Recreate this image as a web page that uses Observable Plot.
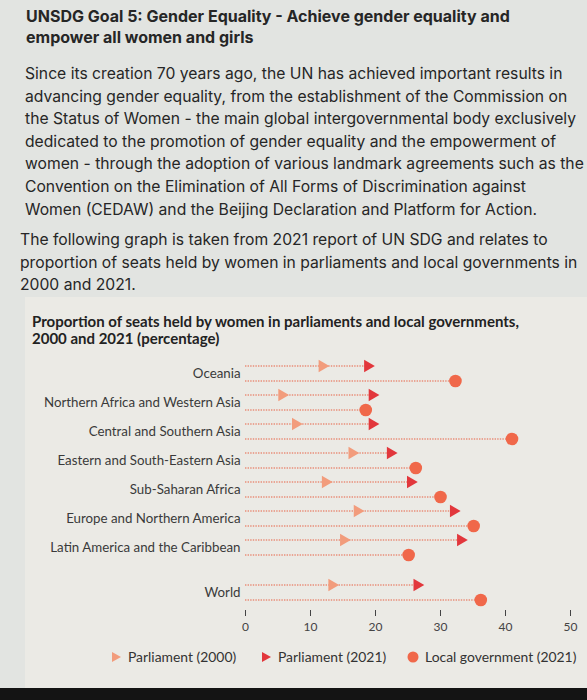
<!DOCTYPE html>
<html>
<head>
<meta charset="utf-8">
<script src="https://cdn.jsdelivr.net/npm/d3@7"></script>
<script src="https://cdn.jsdelivr.net/npm/@observablehq/plot@0.6"></script>
<style>
  body { margin: 0; width: 587px; height: 700px; overflow: hidden; background: #e2e4e1; position: relative;
         font-family: Inter, "Open Sans", sans-serif; color: #262626; }
  #intro { position: absolute; left: 26px; top: 6px; width: 561px; }
  #intro h1 { font-size: 16px; font-weight: 700; line-height: 21px; margin: 0; }
  #intro p { font-size: 15.7px; line-height: 22.6px; margin: 0; white-space: nowrap; }
  #p1 { margin-top: 15px !important; margin-left: -1px !important; }
  #p2 { margin-top: 8px !important; margin-left: -6px !important; }
  #card { position: absolute; left: 25px; top: 297px; right: 0; height: 391px; background: #ebeae5; }
  #card h2 { position: absolute; left: 7px; top: 16px; margin: 0; font-family: Lato, sans-serif; font-weight: 700;
             font-size: 15px; line-height: 16.5px; color: #222; white-space: nowrap; }
  #chart1 { position: absolute; left: 0; top: 59px; }
  #chart2 { position: absolute; left: 0; top: 267px; }
  #legend { position: absolute; left: 0; top: 351px; width: 562px; height: 18px; font-family: Lato, sans-serif;
            font-size: 13.9px; color: #333; }
  #legend span { position: absolute; display: flex; align-items: center; gap: 6px; line-height: 18px; }
  #footer { position: absolute; left: 0; right: 0; bottom: 0; height: 12px; background: #141414; }
</style>
</head>
<body>
<div id="intro">
  <h1>UNSDG Goal 5: Gender Equality - Achieve gender equality and<br>empower all women and girls</h1>
  <p id="p1">Since its creation 70 years ago, the UN has achieved important results in<br>advancing gender equality, from the establishment of the Commission on<br>the Status of Women - the main global intergovernmental body exclusively<br>dedicated to the promotion of gender equality and the empowerment of<br>women - through the adoption of various landmark agreements such as the<br>Convention on the Elimination of All Forms of Discrimination against<br>Women (CEDAW) and the Beijing Declaration and Platform for Action.</p>
  <p id="p2">The following graph is taken from 2021 report of UN SDG and relates to<br>proportion of seats held by women in parliaments and local governments in<br>2000 and 2021.</p>
</div>
<div id="card">
  <h2>Proportion of seats held by women in parliaments and local governments,<br>2000 and 2021 (percentage)</h2>
  <div id="chart1"></div>
  <div id="chart2"></div>
  <div id="legend"></div>
</div>
<div id="footer"></div>
<script>
const regions = ["Oceania", "Northern Africa and Western Asia", "Central and Southern Asia",
  "Eastern and South-Eastern Asia", "Sub-Saharan Africa", "Europe and Northern America",
  "Latin America and the Caribbean"];
const parl2000 = [11.8, 5.6, 7.7, 16.4, 12.3, 17.2, 15.1];
const parl2021 = [18.8, 19.5, 19.5, 22.3, 25.4, 32.0, 33.1];
const local2021 = [32.3, 18.5, 41.0, 26.2, 30.0, 35.1, 25.1];

const world = ["World"];
const worldParl2000 = [13.3];
const worldParl2021 = [26.4];
const worldLocal2021 = [36.2];

const seriesNames = ["Parliament (2000)", "Parliament (2021)", "Local government (2021)"];
const xTicks = [0, 10, 20, 30, 40, 50];

const c2000 = "#f29c7c", c2021 = "#e2373c", cLocal = "#f0684a", cLine = "#e9a594";

const regionRows = regions.map((r, i) => ({region: r, p0: parl2000[i], p1: parl2021[i], loc: local2021[i]}));
const worldRows = world.map((r, i) => ({region: r, p0: worldParl2000[i], p1: worldParl2021[i], loc: worldLocal2021[i]}));

const style = {fontFamily: "Lato, sans-serif", fontSize: "13.3px", color: "#3a3a3a", background: "transparent"};

function rowMarks(rows) {
  const dotted = {stroke: cLine, strokeWidth: 2, strokeDasharray: "1.4,1.2"};
  return [
    Plot.ruleY(rows, {y: "region", x1: 0, x2: "p1", dy: -7.5, ...dotted}),
    Plot.ruleY(rows, {y: "region", x1: 0, x2: "loc", dy: 7.5, ...dotted}),
    Plot.dot(rows, {x: "p0", y: "region", dy: -7.5, symbol: "triangle", rotate: 90, r: 4.6, fill: c2000}),
    Plot.dot(rows, {x: "p1", y: "region", dy: -7.5, symbol: "triangle", rotate: 90, r: 4.6, fill: c2021}),
    Plot.dot(rows, {x: "loc", y: "region", dy: 7.5, r: 6.3, fill: cLocal}),
    Plot.axisY({tickSize: 0, tickPadding: 5, label: null})
  ];
}

const chart1 = Plot.plot({
  width: 562, height: 207,
  marginLeft: 220, marginRight: 17, marginTop: 0, marginBottom: 0,
  style,
  x: {domain: [0, 50], axis: null},
  y: {type: "point", domain: regions, padding: 0.5},
  marks: rowMarks(regionRows)
});
d3.select("#chart1").append(() => chart1);

const chart2 = Plot.plot({
  width: 562, height: 76,
  marginLeft: 220, marginRight: 17, marginTop: 9, marginBottom: 30,
  style,
  x: {domain: [0, 50], line: true},
  y: {type: "point", domain: world, padding: 0.5},
  marks: [
    ...rowMarks(worldRows),
    Plot.axisX({ticks: xTicks, tickSize: 6, tickPadding: 6, label: null, stroke: "#444", fill: "#444", fontSize: 12})
  ]
});
d3.select("#chart2").append(() => chart2);

// legend
const legendLeft = [86, 236, 382];
const legendIcons = [
  `<svg width="11" height="12"><path d="M1,1 L10,6 L1,11 Z" fill="${c2000}"/></svg>`,
  `<svg width="11" height="12"><path d="M1,1 L10,6 L1,11 Z" fill="${c2021}"/></svg>`,
  `<svg width="12" height="12"><circle cx="6" cy="6" r="5.5" fill="${cLocal}"/></svg>`
];
const legend = d3.select("#legend");
seriesNames.forEach((name, i) => {
  const item = legend.append("span").style("left", legendLeft[i] + "px");
  item.append("span").style("position", "static").html(legendIcons[i]);
  item.append("span").style("position", "static").text(name);
});
</script>
</body>
</html>
